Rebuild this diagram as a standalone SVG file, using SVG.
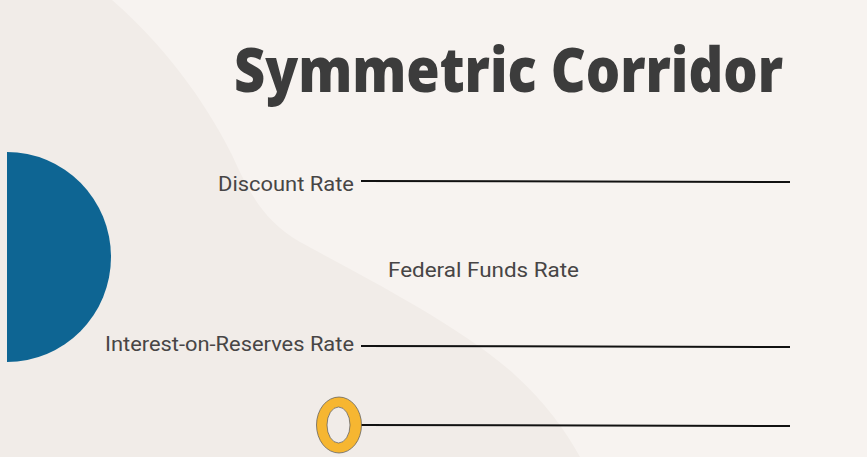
<svg xmlns="http://www.w3.org/2000/svg" width="867" height="457" viewBox="0 0 867 457">
<style>
.lbl{font-family:"Roboto","Liberation Sans",sans-serif;font-size:21px;fill:#474545}
.title{font-family:"Open Sans","Liberation Sans",sans-serif;font-weight:800;font-size:62px;fill:#3c3c3c}
.conn{stroke:#111;stroke-width:2;fill:none}
</style>
<rect width="867" height="457" fill="#f7f3f0"/>
<path d="M0,0 L112,0 C175,55 212,115 232,155 C248,190 262,220 300,242 C360,275 460,325 515,375 C545,402 565,430 580,457 L0,457 Z" fill="#f1ece8"/>
<g id="title"><text class="title" x="234" y="92" textLength="549" lengthAdjust="spacingAndGlyphs">Symmetric Corridor</text></g>
<g id="halfcircle"><path d="M7,152 A104,105 0 0 1 7,362 Z" fill="#0e6593"/></g>
<g id="connectors">
<line class="conn" x1="361" y1="181" x2="790" y2="182"/>
<line class="conn" x1="361" y1="346" x2="790" y2="347"/>
<line class="conn" x1="360" y1="425" x2="790" y2="426"/>
</g>
<g id="discount"><text class="lbl" x="218" y="191" textLength="136" lengthAdjust="spacingAndGlyphs">Discount Rate</text></g>
<g id="fedfunds"><text class="lbl" x="388" y="277" textLength="191" lengthAdjust="spacingAndGlyphs">Federal Funds Rate</text></g>
<g id="ior"><text class="lbl" x="105" y="351" textLength="249" lengthAdjust="spacingAndGlyphs">Interest-on-Reserves Rate</text></g>
<g id="zero"><path d="M339,397 A22.5,28 0 1 1 339,453 A22.5,28 0 1 1 339,397 Z M338.5,407 A11.5,18 0 1 0 338.5,443 A11.5,18 0 1 0 338.5,407 Z" fill="#f6b631" fill-rule="evenodd" stroke="#555" stroke-width="0.7"/></g>
</svg>
